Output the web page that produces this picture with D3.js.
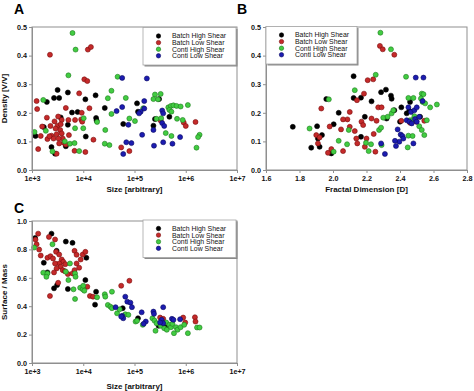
<!DOCTYPE html>
<html><head><meta charset="utf-8">
<script src="https://cdn.jsdelivr.net/npm/d3@7"></script>
<style>
html,body{margin:0;padding:0;background:#fff;}
svg text{font-family:"Liberation Sans",Arial,sans-serif;}
</style></head>
<body>
<svg id="chart" width="474" height="391"></svg>
<script>
const seriesNames = ["Batch High Shear","Batch Low Shear","Conti High Shear","Conti Low Shear"];
const sizeTicks = [1e3,1e4,1e5,1e6,1e7];
const sizeTickLabels = ["1e+3","1e+4","1e+5","1e+6","1e+7"];
const fdTicks = [1.6,1.8,2.0,2.2,2.4,2.6,2.8];
const densityTicks = [0,0.1,0.2,0.3,0.4,0.5];
const smTicks = [0,0.2,0.4,0.6,0.8,1.0];

// Panel A: [size, density]
const batchHighA = [[1170,0.119],[1700,0.150],[1950,0.238],[2690,0.252],[3160,0.280],[3390,0.252],[3630,0.184],[5010,0.271],[2820,0.057],[2400,0.080],[4570,0.083],[5010,0.158],[6030,0.201],[7760,0.203],[1.1e4,0.247],[1.12e4,0.117],[1.74e4,0.261],[1.78e4,0.182],[1.82e4,0.173],[2.63e4,0.217],[6.03e4,0.161],[1.12e5,0.233],[1.17e5,0.204],[3.02e5,0.248],[4.79e5,0.186],[2.34e5,0.155],[2.51e5,0.178]];
const batchLowA = [[1230,0.241],[1260,0.213],[1320,0.073],[1480,0.119],[1580,0.152],[1950,0.183],[2240,0.403],[2290,0.154],[2400,0.120],[2630,0.110],[2000,0.108],[2190,0.118],[3240,0.187],[3800,0.175],[3160,0.155],[3550,0.140],[3800,0.128],[3020,0.125],[3980,0.110],[4170,0.095],[4570,0.089],[4570,0.217],[5130,0.175],[6920,0.175],[8320,0.268],[9120,0.177],[9550,0.169],[6760,0.067],[1.1e4,0.063],[1.05e4,0.317],[1.2e4,0.311],[1.23e4,0.421],[1.41e4,0.430],[1.32e4,0.216],[1.58e4,0.106],[5.5e4,0.079],[7.94e4,0.066],[3.24e5,0.173],[9.12e5,0.166],[1.55e6,0.168],[1.0e6,0.154],[3020,0.057],[5250,0.122],[9330,0.200],[2750,0.170],[3630,0.160],[3310,0.110],[2880,0.145],[3390,0.093]];
const contiHighA = [[1120,0.133],[1660,0.245],[1860,0.137],[2510,0.065],[4370,0.100],[5500,0.092],[6760,0.094],[5130,0.331],[6170,0.479],[7080,0.421],[6920,0.146],[1.0e4,0.146],[1.02e4,0.181],[8320,0.066],[1.86e4,0.168],[2.69e4,0.140],[2.63e4,0.092],[3.24e4,0.087],[3.02e4,0.251],[3.55e4,0.277],[3.55e4,0.196],[4.68e4,0.326],[6.76e4,0.252],[7.94e4,0.180],[1.02e5,0.171],[1.48e5,0.216],[2.51e5,0.264],[3.24e5,0.266],[2.34e5,0.248],[2.88e5,0.247],[2.69e5,0.179],[3.31e5,0.181],[4.57e5,0.219],[5.13e5,0.224],[5.75e5,0.226],[6.61e5,0.224],[7.94e5,0.222],[1.1e6,0.227],[4.79e5,0.210],[5.25e5,0.204],[6.76e5,0.179],[8.71e5,0.175],[4.07e5,0.129],[5.25e5,0.119],[1.86e6,0.123],[1.74e6,0.115],[1.62e6,0.078]];
const contiLowA = [[5.75e4,0.322],[1.74e5,0.320],[4.47e4,0.206],[5.75e4,0.220],[1.32e5,0.204],[1.23e5,0.198],[1.55e5,0.215],[1.55e5,0.241],[7.59e4,0.158],[6.92e4,0.097],[8.71e4,0.094],[6.03e4,0.056],[1.41e5,0.123],[2.4e5,0.085],[3.63e5,0.097],[5.5e5,0.092],[3.47e5,0.208],[3.63e5,0.198],[3.47e5,0.164],[3.8e5,0.154],[7.76e5,0.115],[2.34e5,0.140]];

// Panel B: [fractal dimension, density]
const batchHighB = [[1.76,0.151],[1.87,0.078],[1.905,0.153],[1.91,0.110],[1.934,0.122],[1.92,0.081],[1.96,0.248],[1.99,0.058],[2.004,0.160],[2.034,0.200],[2.123,0.328],[2.123,0.252],[2.167,0.253],[2.167,0.116],[2.19,0.186],[2.23,0.240],[2.287,0.272],[2.316,0.281],[2.346,0.260],[2.35,0.249],[2.366,0.209],[2.408,0.219],[2.40,0.169],[2.32,0.180],[2.46,0.238],[2.44,0.198],[2.456,0.207],[2.52,0.186]];
const batchLowB = [[1.93,0.215],[1.90,0.122],[1.92,0.114],[1.91,0.093],[1.98,0.152],[1.99,0.073],[1.97,0.060],[2.048,0.142],[2.10,0.203],[2.086,0.177],[2.06,0.177],[2.10,0.151],[2.13,0.136],[2.139,0.110],[2.145,0.093],[2.143,0.244],[2.17,0.169],[2.18,0.157],[2.19,0.081],[2.185,0.267],[2.207,0.314],[2.24,0.317],[2.23,0.180],[2.243,0.126],[2.253,0.064],[2.26,0.172],[2.27,0.219],[2.29,0.219],[2.28,0.434],[2.297,0.422],[2.366,0.403],[2.408,0.172],[2.46,0.165],[2.497,0.169],[2.545,0.172],[2.06,0.066],[2.20,0.110]];
const contiHighB = [[1.86,0.145],[1.975,0.247],[2.004,0.064],[2.034,0.102],[2.084,0.090],[2.094,0.140],[2.13,0.279],[2.255,0.333],[2.197,0.095],[2.227,0.090],[2.29,0.087],[2.275,0.140],[2.287,0.148],[2.30,0.183],[2.326,0.186],[2.35,0.198],[2.36,0.209],[2.283,0.480],[2.346,0.422],[2.436,0.326],[2.45,0.252],[2.48,0.252],[2.53,0.267],[2.54,0.265],[2.525,0.250],[2.535,0.238],[2.55,0.233],[2.58,0.219],[2.62,0.229],[2.446,0.079],[2.45,0.120],[2.475,0.119],[2.515,0.153],[2.53,0.140],[2.545,0.122],[2.46,0.174],[2.48,0.177],[2.486,0.188],[2.56,0.174],[2.213,0.066]];
const contiLowB = [[2.494,0.323],[2.54,0.323],[2.535,0.241],[2.45,0.219],[2.466,0.203],[2.486,0.209],[2.50,0.219],[2.44,0.174],[2.456,0.169],[2.47,0.163],[2.49,0.178],[2.50,0.169],[2.515,0.186],[2.386,0.142],[2.404,0.124],[2.414,0.119],[2.42,0.110],[2.376,0.084],[2.396,0.099],[2.37,0.102],[2.287,0.093],[2.31,0.056],[2.48,0.093]];

// Panel C: [size, surface/mass]
const batchHighC = [[1150,0.880],[2400,0.911],[4570,0.855],[6170,0.846],[2000,0.638],[1700,0.706],[1.15e4,0.741],[2690,0.526],[5010,0.521],[1.1e4,0.584],[1.78e4,0.502],[1.7e4,0.411],[5.89e4,0.386],[1.17e5,0.315],[3020,0.790],[3090,0.549],[2.95e5,0.262],[4.07e5,0.252]];
const batchLowC = [[1320,0.911],[1170,0.869],[2140,0.888],[2820,0.870],[1230,0.836],[1380,0.799],[1480,0.757],[2000,0.741],[2290,0.752],[2570,0.736],[2950,0.783],[3390,0.764],[3800,0.729],[4070,0.713],[4470,0.696],[3390,0.701],[3630,0.678],[2820,0.701],[3020,0.666],[2690,0.638],[3980,0.654],[4370,0.647],[5010,0.626],[6170,0.631],[6760,0.654],[7410,0.701],[8320,0.671],[6760,0.790],[7410,0.762],[9770,0.764],[1.1e4,0.783],[8910,0.729],[2240,0.472],[3240,0.565],[1.35e4,0.472],[1.55e4,0.467],[1.2e4,0.537],[7.94e4,0.579],[5.5e4,0.544],[3.16e5,0.320],[3.63e5,0.311],[8.91e5,0.320],[9.77e5,0.285],[1.51e6,0.322],[1.55e6,0.292]];
const contiHighC = [[1100,0.813],[2510,0.836],[1660,0.636],[2000,0.631],[1910,0.607],[5500,0.701],[4570,0.643],[6920,0.631],[7080,0.607],[5130,0.584],[6920,0.451],[6460,0.519],[8710,0.530],[9770,0.519],[1.0e4,0.544],[1.05e4,0.509],[1.86e4,0.463],[2.63e4,0.484],[2.69e4,0.467],[3.63e4,0.502],[3.02e4,0.409],[3.39e4,0.397],[3.63e4,0.386],[4.57e4,0.350],[5.13e4,0.378],[6.61e4,0.343],[7.59e4,0.339],[1.05e5,0.292],[1.12e5,0.297],[1.45e5,0.269],[2.24e5,0.315],[2.45e5,0.299],[2.69e5,0.280],[3.24e5,0.262],[3.8e5,0.245],[4.27e5,0.234],[2.57e5,0.227],[4.17e5,0.285],[4.79e5,0.269],[5.13e5,0.252],[5.5e5,0.276],[6.46e5,0.252],[6.92e5,0.234],[7.94e5,0.252],[9.33e5,0.269],[1.1e6,0.210],[5.89e5,0.210],[1.66e6,0.250],[1.86e6,0.250]];
const contiLowC = [[4.27e4,0.393],[5.75e4,0.332],[6.03e4,0.315],[6.61e4,0.467],[7.24e4,0.432],[8.32e4,0.425],[8.91e4,0.393],[5.5e4,0.327],[1.38e5,0.357],[1.66e5,0.292],[1.51e5,0.276],[2.34e5,0.362],[2.4e5,0.346],[3.63e5,0.393],[3.39e5,0.304],[3.63e5,0.280],[3.16e5,0.285],[5.37e5,0.311],[5.75e5,0.304],[7.76e5,0.308]];

const fills = ["#000000","#c42a2a","#42cc42","#1c1cb0"];
const strokes = ["#000000","#7a0c0c","#1f7a1f","#0a0a60"];

const svg = d3.select("#chart");
const frameColor = "#8f8f8f";

function panel(opts){
  const {x, y, xTicks, xFmt, yTicks, yFmt, data, legend, letter, xTitle, yTitle} = opts;
  const g = svg.append("g");
  const [x0,x1] = x.range(), [y0,y1] = y.range();
  data.forEach((pts,i)=>{
    g.append("g").selectAll("circle").data(pts).join("circle")
      .attr("cx",d=>x(d[0])).attr("cy",d=>y(d[1])).attr("r",2.5)
      .attr("fill",fills[i]).attr("stroke",strokes[i]).attr("stroke-width",0.6);
  });
  g.append("rect").attr("x",x0).attr("y",y1).attr("width",x1-x0).attr("height",y0-y1)
    .attr("fill","none").attr("stroke",frameColor).attr("stroke-width",1);
  const ax = g.append("g").attr("transform",`translate(0,${y0})`)
    .call(d3.axisBottom(x).tickValues(xTicks).tickFormat(xFmt).tickSize(3).tickPadding(2));
  const ay = g.append("g").attr("transform",`translate(${x0},0)`)
    .call(d3.axisLeft(y).tickValues(yTicks).tickFormat(yFmt).tickSize(3).tickPadding(2));
  [ax,ay].forEach(a=>{
    a.select(".domain").attr("stroke",frameColor);
    a.selectAll(".tick line").attr("stroke",frameColor);
    a.selectAll(".tick text").attr("font-size","7.2px").attr("font-weight","bold").attr("fill","#111")
      .attr("font-family","Liberation Sans, Arial, sans-serif");
  });
  ax.selectAll(".tick text").attr("dy","0.9em");
  const lg = g.append("g");
  lg.append("rect").attr("x",legend.x+1.5).attr("y",legend.y+1.5).attr("width",legend.w).attr("height",legend.h).attr("fill","#8a8a8a");
  lg.append("rect").attr("x",legend.x).attr("y",legend.y).attr("width",legend.w).attr("height",legend.h)
    .attr("fill","#fff").attr("stroke","#a5a5a5").attr("stroke-width",0.8);
  seriesNames.forEach((nm,i)=>{
    const ry = legend.y + 8.5 + i*6.6;
    lg.append("circle").attr("cx",legend.x+15.5).attr("cy",ry).attr("r",2.2)
      .attr("fill",fills[i]).attr("stroke",strokes[i]).attr("stroke-width",0.6);
    lg.append("text").attr("x",legend.x+29).attr("y",ry+2.4).attr("font-size","6.9px").attr("fill","#111").text(nm);
  });
  svg.append("text").attr("x",letter.x).attr("y",letter.y).attr("font-size","14px").attr("font-weight","bold").text(letter.t);
  svg.append("text").attr("x",(x0+x1)/2).attr("y",xTitle.y).attr("text-anchor","middle")
    .attr("font-size","8px").attr("font-weight","bold").attr("fill","#111").text(xTitle.t);
  if(yTitle){
    svg.append("text").attr("transform",`translate(${yTitle.x},${(y0+y1)/2}) rotate(-90)`).attr("text-anchor","middle")
      .attr("font-size","8px").attr("font-weight","bold").attr("fill","#111").text(yTitle.t);
  }
}

const fmt1 = d3.format(".1f");
const sizeFmt = d=>sizeTickLabels[sizeTicks.indexOf(d)];

panel({
  x: d3.scaleLog().domain([1e3,1e7]).range([32,237]),
  y: d3.scaleLinear().domain([0,0.5]).range([170,27]),
  xTicks: sizeTicks, xFmt: sizeFmt, yTicks: densityTicks, yFmt: fmt1,
  data: [batchHighA,batchLowA,contiHighA,contiLowA],
  legend: {x:143,y:27.5,w:93,h:37.5},
  letter: {x:14,y:14,t:"A"},
  xTitle: {y:192,t:"Size [arbitrary]"},
  yTitle: {x:7,t:"Density [V/V]"}
});
panel({
  x: d3.scaleLinear().domain([1.6,2.8]).range([266,467]),
  y: d3.scaleLinear().domain([0,0.5]).range([170,27]),
  xTicks: fdTicks, xFmt: fmt1, yTicks: densityTicks, yFmt: fmt1,
  data: [batchHighB,batchLowB,contiHighB,contiLowB],
  legend: {x:266,y:26.5,w:91,h:37.5},
  letter: {x:237,y:14,t:"B"},
  xTitle: {y:192,t:"Fractal Dimension [D]"},
  yTitle: null
});
panel({
  x: d3.scaleLog().domain([1e3,1e7]).range([32,237]),
  y: d3.scaleLinear().domain([0,1]).range([363,221]),
  xTicks: sizeTicks, xFmt: sizeFmt, yTicks: smTicks, yFmt: fmt1,
  data: [batchHighC,batchLowC,contiHighC,contiLowC],
  legend: {x:143,y:220,w:93,h:37.5},
  letter: {x:14,y:213,t:"C"},
  xTitle: {y:389,t:"Size [arbitrary]"},
  yTitle: {x:7,t:"Surface / Mass"}
});
</script>
</body></html>
